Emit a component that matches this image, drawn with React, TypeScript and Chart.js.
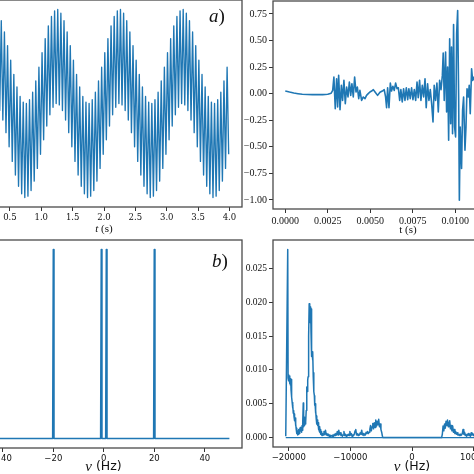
import React, { useEffect, useRef } from 'react';
import { Chart, registerables } from 'chart.js';

Chart.register(...registerables);

// ---------- a) left: two-tone signal, max/min of each 20 Hz cycle ----------
const SIG_T0 = 0.0125;
const SIG_DT = 0.025;
const SIG_V = [
  1.08, -0.77, 1.38, -0.48, 1.65, -0.24, 1.85, -0.08, 1.97, 0.0, 2.0, -0.03, 1.92, -0.15, 1.76, -0.35, 1.52, -0.62, 1.23, -0.92,
  0.92, -1.23, 0.62, -1.52, 0.35, -1.76, 0.15, -1.92, 0.03, -2.0, 0.0, -1.97, 0.08, -1.85, 0.24, -1.65, 0.48, -1.38, 0.77, -1.08,
  1.08, -0.77, 1.38, -0.48, 1.65, -0.24, 1.85, -0.08, 1.97, 0.0, 2.0, -0.03, 1.92, -0.15, 1.76, -0.35, 1.52, -0.62, 1.23, -0.92,
  0.92, -1.23, 0.62, -1.52, 0.35, -1.76, 0.15, -1.92, 0.03, -2.0, 0.0, -1.97, 0.08, -1.85, 0.24, -1.65, 0.48, -1.38, 0.77, -1.08,
  1.08, -0.77, 1.38, -0.48, 1.65, -0.24, 1.85, -0.08, 1.97, 0.0, 2.0, -0.03, 1.92, -0.15, 1.76, -0.35, 1.52, -0.62, 1.23, -0.92,
  0.92, -1.23, 0.62, -1.52, 0.35, -1.76, 0.15, -1.92, 0.03, -2.0, 0.0, -1.97, 0.08, -1.85, 0.24, -1.65, 0.48, -1.38, 0.77, -1.08,
  1.08, -0.77, 1.38, -0.48, 1.65, -0.24, 1.85, -0.08, 1.97, 0.0, 2.0, -0.03, 1.92, -0.15, 1.76, -0.35, 1.52, -0.62, 1.23, -0.92,
  0.92, -1.23, 0.62, -1.52, 0.35, -1.76, 0.15, -1.92, 0.03, -2.0, 0.0, -1.97, 0.08, -1.85, 0.24, -1.65, 0.48, -1.38, 0.77, -1.08,
];
const TL_X_TICKS = [0, 0.5, 1, 1.5, 2, 2.5, 3, 3.5, 4];
const TL_X_LABELS = ['0.0', '0.5', '1.0', '1.5', '2.0', '2.5', '3.0', '3.5', '4.0'];
const TL_Y_TICKS = [-2, -1, 0, 1, 2];
const TL_Y_LABELS = ['−2', '−1', '0', '1', '2'];

// ---------- a) right: measured signal ----------
const TR_T = [
  0.0, 0.00025, 0.0005, 0.00075, 0.001, 0.0013, 0.0016, 0.0019, 0.0022, 0.0025, 0.0027,
  0.00279, 0.00286, 0.00294, 0.00302, 0.00308, 0.00314, 0.00322, 0.0033, 0.00337, 0.00345,
  0.00353, 0.00361, 0.00369, 0.00377, 0.00385, 0.00392, 0.004, 0.00408, 0.00416, 0.00424,
  0.00432, 0.00439, 0.00449, 0.00459, 0.00469, 0.00478, 0.00488, 0.00498, 0.00508, 0.00518,
  0.00528, 0.00543, 0.00557, 0.00571, 0.00582, 0.0059, 0.00596, 0.00602, 0.0061, 0.00618,
  0.00625, 0.00633, 0.00641, 0.00649, 0.00657, 0.00665, 0.00673, 0.0068, 0.00688, 0.00696,
  0.00704, 0.00712, 0.0072, 0.00727, 0.00735, 0.00743, 0.00751, 0.00759, 0.00767, 0.00775,
  0.00782, 0.0079, 0.00798, 0.00806, 0.00814, 0.00822, 0.00829, 0.00837, 0.00845, 0.00853,
  0.00861, 0.00869, 0.00876, 0.00884, 0.00892, 0.009, 0.00908, 0.00916, 0.00924, 0.00929,
  0.00935, 0.00943, 0.00949, 0.00955, 0.00961, 0.00967, 0.00973, 0.00978, 0.00984, 0.0099,
  0.00996, 0.01002, 0.01008, 0.01014, 0.0102, 0.01024, 0.01029, 0.01037, 0.01043, 0.01049,
  0.01057, 0.01063, 0.01069, 0.01076, 0.01082, 0.01088, 0.01096, 0.01102, 0.0111, 0.01118,
];
const TR_V = [
  0.025, 0.015, 0.006, 0.0, -0.006, -0.008, -0.009, -0.008, -0.009, -0.005, 0.005,
  0.031, 0.156, -0.141, 0.141, -0.125, 0.172, -0.15, 0.078, -0.063, 0.125,
  -0.094, 0.063, -0.031, 0.11, -0.016, 0.094, -0.031, 0.156, 0.016, 0.063,
  -0.047, 0.031, -0.063, -0.031, -0.047, -0.016, 0.0, 0.016, 0.025, 0.038,
  0.016, -0.016, 0.013, 0.025, 0.038, -0.031, -0.131, 0.056, -0.131, 0.1,
  0.025, 0.069, 0.031, 0.1, 0.047, 0.056, -0.063, 0.038, -0.078, 0.047,
  -0.063, 0.056, -0.056, 0.047, -0.047, 0.056, -0.056, 0.038, -0.063, 0.11,
  -0.038, 0.125, -0.063, 0.078, -0.031, 0.141, -0.131, 0.094, -0.063, 0.038,
  -0.094, -0.266, 0.078, -0.063, 0.1, -0.172, 0.125, 0.038, 0.172, 0.382,
  -0.063, 0.391, -0.172, 0.25, -0.438, 0.516, -0.282, 0.438, -0.376, 0.651,
  -0.313, -0.407, 0.563, 0.782, -0.063, -1.002, -0.313, -0.704, -0.156, -0.031,
  -0.532, -0.313, 0.047, -0.031, 0.078, -0.188, 0.235, 0.125, 0.156, 0.1,
];
const TR_X_TICKS = [0, 0.0025, 0.005, 0.0075, 0.01, 0.0125, 0.015];
const TR_X_LABELS = ['0.0000', '0.0025', '0.0050', '0.0075', '0.0100', '0.0125', '0.0150'];
const TR_Y_TICKS = [-1, -0.75, -0.5, -0.25, 0, 0.25, 0.5, 0.75];
const TR_Y_LABELS = ['−1.00', '−0.75', '−0.50', '−0.25', '0.00', '0.25', '0.50', '0.75'];

// ---------- b) left: spectrum of the two-tone signal ----------
const BL_F = [-50, -20.25, -20, -19.75, -1.25, -1, -0.75, 0.75, 1, 1.25, 19.75, 20, 20.25, 49.75];
const BL_V = [0, 0, 0.5, 0, 0, 0.5, 0, 0, 0.5, 0, 0, 0.5, 0, 0];
const BL_X_TICKS = [-40, -20, 0, 20, 40];
const BL_X_LABELS = ['−40', '−20', '0', '20', '40'];
const BL_Y_TICKS = [0, 0.1, 0.2, 0.3, 0.4, 0.5];
const BL_Y_LABELS = ['0.0', '0.1', '0.2', '0.3', '0.4', '0.5'];

// ---------- b) right: spectrum of the measured signal ----------
const BR_F = [
  -20480, -20160, -20100, -20050, -19980, -19920, -19860, -19800, -19740, -19680, -19620, -19560, -19500, -19440,
  -19380, -19320, -19260, -19200, -19140, -19080, -19020, -18960, -18900, -18840, -18780, -18720, -18660, -18600,
  -18540, -18480, -18420, -18360, -18300, -18240, -18180, -18120, -18060, -18000, -17940, -17880, -17820, -17760,
  -17700, -17640, -17580, -17520, -17460, -17400, -17340, -17280, -17220, -17160, -17100, -17040, -16980, -16920,
  -16860, -16800, -16740, -16680, -16620, -16560, -16500, -16440, -16380, -16320, -16260, -16200, -16140, -16080,
  -16020, -15960, -15900, -15840, -15780, -15720, -15660, -15600, -15540, -15480, -15420, -15360, -15300, -15240,
  -15180, -15120, -15060, -15000, -14940, -14880, -14820, -14760, -14700, -14640, -14580, -14520, -14400, -14280,
  -14160, -14040, -13920, -13800, -13680, -13560, -13440, -13320, -13200, -13080, -12960, -12840, -12720, -12600,
  -12480, -12360, -12240, -12120, -12000, -11880, -11760, -11640, -11520, -11400, -11280, -11160, -11040, -10920,
  -10800, -10680, -10560, -10440, -10320, -10200, -10080, -9960, -9840, -9720, -9600, -9480, -9360, -9240,
  -9120, -9000, -8880, -8760, -8640, -8520, -8400, -8280, -8160, -8040, -7920, -7800, -7680, -7560,
  -7440, -7320, -7200, -7080, -6960, -6840, -6720, -6600, -6480, -6360, -6240, -6120, -6000, -5880,
  -5760, -5640, -5520, -5400, -5280, -5160, -5040, -4920, -4800, -4680, 4800, 4920, 5040, 5160,
  5280, 5400, 5520, 5640, 5760, 5880, 6000, 6120, 6240, 6360, 6480, 6600, 6720, 6840,
  6960, 7080, 7200, 7320, 7440, 7560, 7680, 7800, 7920, 8040, 8160, 8280, 8400, 8520,
  8640, 8760, 8880, 9000, 9120, 9240, 9360, 9480, 9600, 9720, 9840, 9960, 10080, 10200,
  10320, 10440,
];
const BR_V = [
  0.0002, 0.0278, 0.0088, 0.0093, 0.0084, 0.0091, 0.008, 0.0089, 0.0078, 0.0087, 0.007, 0.0086, 0.006, 0.0052,
  0.0044, 0.0048, 0.0036, 0.004, 0.0031, 0.0035, 0.0025, 0.0029, 0.0018, 0.002, 0.0012, 0.0014, 0.0006, 0.0009,
  0.0004, 0.001, 0.0005, 0.0012, 0.0006, 0.0013, 0.0008, 0.0015, 0.001, 0.0014, 0.0008, 0.0012, 0.0018, 0.0011,
  0.0022, 0.0051, 0.0016, 0.0025, 0.0018, 0.003, 0.002, 0.0028, 0.0023, 0.004, 0.0048, 0.0075, 0.0068, 0.0085,
  0.009, 0.0108, 0.015, 0.0198, 0.0175, 0.0196, 0.017, 0.0193, 0.0155, 0.019, 0.012, 0.0126, 0.0115, 0.0127,
  0.009, 0.0096, 0.0068, 0.0062, 0.0048, 0.005, 0.0036, 0.004, 0.0028, 0.0032, 0.002, 0.0026, 0.0018, 0.0022,
  0.0012, 0.0019, 0.001, 0.0016, 0.0008, 0.0012, 0.0005, 0.0009, 0.0004, 0.0007, 0.0003, 0.0006, 0.0004, 0.0009,
  0.0005, 0.0011, 0.0004, 0.0006, 0.0003, 0.0005, 0.0002, 0.0004, 0.0002, 0.0003, 0.0002, 0.0004, 0.0002, 0.0005,
  0.0003, 0.0006, 0.0004, 0.0009, 0.0004, 0.0011, 0.0005, 0.0007, 0.0003, 0.0005, 0.0002, 0.0004, 0.0009, 0.0003,
  0.0005, 0.0002, 0.0004, 0.0003, 0.0005, 0.0003, 0.0009, 0.0004, 0.0006, 0.0002, 0.0004, 0.0003, 0.0005, 0.001,
  0.0012, 0.0004, 0.0006, 0.0003, 0.0005, 0.0004, 0.0007, 0.0005, 0.0011, 0.0004, 0.0006, 0.0003, 0.0005, 0.0004,
  0.0008, 0.0006, 0.0009, 0.0006, 0.0008, 0.0012, 0.0018, 0.001, 0.0016, 0.0021, 0.0013, 0.0022, 0.0015, 0.0026,
  0.0017, 0.0024, 0.0019, 0.0027, 0.0016, 0.002, 0.0012, 0.0008, 0.0002, 0.0, 0.0, 0.0005, 0.0017, 0.001,
  0.002, 0.0014, 0.0024, 0.0018, 0.0026, 0.0016, 0.0021, 0.0025, 0.0013, 0.0018, 0.001, 0.0017, 0.0008, 0.0012,
  0.0006, 0.0009, 0.0005, 0.0007, 0.0004, 0.0005, 0.0003, 0.0005, 0.0003, 0.0004, 0.0006, 0.0012, 0.0005, 0.0008,
  0.0003, 0.0005, 0.0002, 0.0004, 0.0006, 0.0003, 0.0005, 0.0002, 0.0007, 0.0004, 0.0006, 0.0003, 0.0005, 0.0002,
  0.0004, 0.0003,
];
const BR_BASE_F = [-20480, 20480];
const BR_BASE_V = [0, 0];
const BR_X_TICKS = [-20000, -10000, 0, 10000, 20000];
const BR_X_LABELS = ['−20000', '−10000', '0', '10000', '20000'];
const BR_Y_TICKS = [0, 0.005, 0.01, 0.015, 0.02, 0.025];
const BR_Y_LABELS = ['0.000', '0.005', '0.010', '0.015', '0.020', '0.025'];

// ---------- styling / layout ----------
const BLUE = '#1f77b4';
const SERIF = '"Liberation Serif", "Times New Roman", serif';
const DSERIF = '"DejaVu Serif", serif';
const SANS = '"DejaVu Sans", sans-serif';

const YW = 44;
const XH = 34;
const PL = 4;
const PR = 30;
const PT = 10;
const PB = 4;

type Geo = { L: number; T: number; R: number; B: number };
type Seg = { text: string; font: string };
type TextItem = { segs: Seg[]; ax: 'center' | 'right'; dx: number; ay: 'top' | 'bottom'; dy: number };

const framePlugin = {
  id: 'frame',
  afterDraw(chart: any, _args: any, opts: any) {
    const { ctx, chartArea: a } = chart;
    ctx.save();
    ctx.strokeStyle = '#4a4a4a';
    ctx.lineWidth = 1.3;
    ctx.strokeRect(a.left, a.top, a.right - a.left, a.bottom - a.top);
    const texts: TextItem[] = (opts && opts.texts) || [];
    ctx.fillStyle = '#111';
    ctx.textBaseline = 'middle';
    ctx.textAlign = 'left';
    for (const it of texts) {
      let w = 0;
      for (const s of it.segs) {
        ctx.font = s.font;
        w += ctx.measureText(s.text).width;
      }
      let x = (it.ax === 'center' ? (a.left + a.right) / 2 : a.right) + it.dx - w / 2;
      const y = (it.ay === 'bottom' ? a.bottom : a.top) + it.dy;
      for (const s of it.segs) {
        ctx.font = s.font;
        ctx.fillText(s.text, x, y);
        x += ctx.measureText(s.text).width;
      }
    }
    ctx.restore();
  },
};

type AxisSpec = { min: number; max: number; ticks: number[]; labels: string[]; font: any };

function axis(spec: AxisSpec, horizontal: boolean) {
  return {
    type: 'linear',
    min: spec.min,
    max: spec.max,
    afterFit: (s: any) => {
      if (horizontal) s.height = XH;
      else s.width = YW;
    },
    afterBuildTicks: (s: any) => {
      s.ticks = spec.ticks.map((v) => ({ value: v }));
    },
    ticks: {
      autoSkip: false,
      maxRotation: 0,
      minRotation: 0,
      padding: 2,
      color: '#111',
      font: spec.font,
      callback: (_v: any, i: number) => spec.labels[i],
    },
    grid: { display: true, drawOnChartArea: false, drawTicks: true, tickLength: 4, color: '#333', lineWidth: 1 },
    border: { display: false },
  };
}

function makeConfig(datasets: any[], x: AxisSpec, y: AxisSpec, texts: TextItem[]) {
  return {
    type: 'scatter',
    data: { datasets },
    options: {
      responsive: false,
      maintainAspectRatio: false,
      animation: false,
      devicePixelRatio: 1,
      layout: { padding: { left: PL, right: PR, top: PT, bottom: PB } },
      plugins: { legend: { display: false }, tooltip: { enabled: false }, frame: { texts } },
      elements: { point: { radius: 0 }, line: { tension: 0 } },
      scales: { x: axis(x, true), y: axis(y, false) },
    },
    plugins: [framePlugin],
  };
}

function lineSet(xs: number[], ys: number[], width = 1.5) {
  return {
    data: xs.map((xv, i) => ({ x: xv, y: ys[i] })),
    showLine: true,
    borderColor: BLUE,
    backgroundColor: BLUE,
    borderWidth: width,
    borderJoinStyle: 'round',
    pointRadius: 0,
    fill: false,
  };
}

function Panel({ geo, build }: { geo: Geo; build: () => any }) {
  const ref = useRef<HTMLCanvasElement>(null);
  const left = geo.L - PL - YW;
  const top = geo.T - PT;
  const width = geo.R - geo.L + PL + YW + PR;
  const height = geo.B - geo.T + PT + XH + PB;
  useEffect(() => {
    const chart = new Chart(ref.current as HTMLCanvasElement, build());
    return () => chart.destroy();
  }, []);
  return (
    <canvas
      ref={ref}
      width={width}
      height={height}
      style={{ position: 'absolute', left, top, width, height, display: 'block' }}
    />
  );
}

const sigT = SIG_V.map((_v, i) => SIG_T0 + i * SIG_DT);

function buildTL() {
  return makeConfig(
    [lineSet(sigT, SIG_V, 1.35)],
    { min: -0.2, max: 4.2, ticks: TL_X_TICKS, labels: TL_X_LABELS, font: { family: DSERIF, size: 8.5 } },
    { min: -2.2, max: 2.2, ticks: TL_Y_TICKS, labels: TL_Y_LABELS, font: { family: DSERIF, size: 8.5 } },
    [
      {
        segs: [
          { text: 't', font: `italic 11px ${SERIF}` },
          { text: ' (s)', font: `11px ${SERIF}` },
        ],
        ax: 'center', dx: 0, ay: 'bottom', dy: 22,
      },
      {
        segs: [
          { text: 'a', font: `italic 19px ${SERIF}` },
          { text: ')', font: `19px ${SERIF}` },
        ],
        ax: 'right', dx: -25, ay: 'top', dy: 17,
      },
    ]
  );
}

function buildTR() {
  return makeConfig(
    [lineSet(TR_T, TR_V, 1.6)],
    { min: -0.000722, max: 0.01516, ticks: TR_X_TICKS, labels: TR_X_LABELS, font: { family: SERIF, size: 10 } },
    { min: -1.085, max: 0.872, ticks: TR_Y_TICKS, labels: TR_Y_LABELS, font: { family: SERIF, size: 10 } },
    [
      {
        segs: [{ text: 't (s)', font: `11px ${SERIF}` }],
        ax: 'center', dx: 0, ay: 'bottom', dy: 21,
      },
    ]
  );
}

function buildBL() {
  return makeConfig(
    [lineSet(BL_F, BL_V, 1.6)],
    { min: -54.99, max: 54.74, ticks: BL_X_TICKS, labels: BL_X_LABELS, font: { family: SANS, size: 8.5 } },
    { min: -0.025, max: 0.525, ticks: BL_Y_TICKS, labels: BL_Y_LABELS, font: { family: SANS, size: 8.5 } },
    [
      {
        segs: [
          { text: 'ν', font: `italic 15px ${SERIF}` },
          { text: ' (Hz)', font: `12.5px ${SANS}` },
        ],
        ax: 'center', dx: 0, ay: 'bottom', dy: 19,
      },
      {
        segs: [
          { text: 'b', font: `italic 19px ${SERIF}` },
          { text: ')', font: `19px ${SERIF}` },
        ],
        ax: 'right', dx: -22, ay: 'top', dy: 22,
      },
    ]
  );
}

function buildBR() {
  return makeConfig(
    [lineSet(BR_BASE_F, BR_BASE_V, 1.3), lineSet(BR_F, BR_V, 1.5)],
    { min: -22550, max: 22550, ticks: BR_X_TICKS, labels: BR_X_LABELS, font: { family: SANS, size: 8.5 } },
    { min: -0.00139, max: 0.02922, ticks: BR_Y_TICKS, labels: BR_Y_LABELS, font: { family: SERIF, size: 9.5 } },
    [
      {
        segs: [
          { text: 'ν', font: `italic 15px ${SERIF}` },
          { text: ' (Hz)', font: `12.5px ${SANS}` },
        ],
        ax: 'center', dx: 0, ay: 'bottom', dy: 20,
      },
    ]
  );
}

const GEO_TL: Geo = { L: -34, T: 0, R: 242, B: 207 };
const GEO_TR: Geo = { L: 272.5, T: 1, R: 543, B: 209 };
const GEO_BL: Geo = { L: -35, T: 240, R: 242, B: 448 };
const GEO_BR: Geo = { L: 273, T: 240, R: 551, B: 447 };

export default function App() {
  return (
    <div
      style={{
        position: 'fixed',
        left: 0,
        top: 0,
        width: 474,
        height: 474,
        overflow: 'hidden',
        background: '#fff',
      }}
    >
      <Panel geo={GEO_TL} build={buildTL} />
      <Panel geo={GEO_TR} build={buildTR} />
      <Panel geo={GEO_BL} build={buildBL} />
      <Panel geo={GEO_BR} build={buildBR} />
    </div>
  );
}
